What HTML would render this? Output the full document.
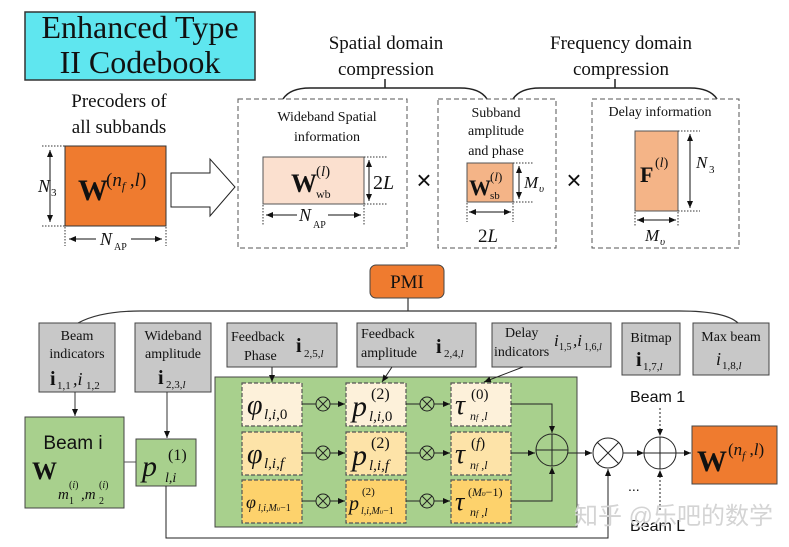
<!DOCTYPE html>
<html><head><meta charset="utf-8"><style>
html,body{margin:0;padding:0;background:#fff;}
svg{display:block;}
text{font-family:"Liberation Serif",serif;fill:#111;}
.s{font-family:"Liberation Sans","DejaVu Sans",sans-serif;}
.i{font-style:italic;}
.b{font-weight:bold;}
</style></head><body>
<svg width="789" height="547" viewBox="0 0 789 547" xmlns="http://www.w3.org/2000/svg">
<defs>
<marker id="ah" markerWidth="8" markerHeight="8" refX="7" refY="4" orient="auto" markerUnits="userSpaceOnUse"><path d="M0,1 L7,4 L0,7 z" fill="#111"/></marker>
<marker id="as" markerWidth="8" markerHeight="8" refX="1" refY="4" orient="auto" markerUnits="userSpaceOnUse"><path d="M8,1 L1,4 L8,7 z" fill="#111"/></marker>
</defs>

<!-- Title -->
<rect x="25" y="12" width="230" height="68" fill="#5fe6ef" stroke="#333" stroke-width="1.5"/>
<text x="140" y="38" font-size="32" text-anchor="middle">Enhanced Type</text>
<text x="140" y="73" font-size="32" text-anchor="middle">II Codebook</text>

<text x="386" y="49" font-size="19" text-anchor="middle">Spatial domain</text>
<text x="386" y="75" font-size="19" text-anchor="middle">compression</text>
<text x="621" y="49" font-size="19" text-anchor="middle">Frequency domain</text>
<text x="621" y="75" font-size="19" text-anchor="middle">compression</text>

<path d="M283,99 Q290,88 310,88 L460,88 Q480,88 487,99 M385,88 L385,79" fill="none" stroke="#222" stroke-width="1.5"/>
<path d="M513,99 Q520,88 540,88 L690,88 Q710,88 717,99 M615,88 L615,79" fill="none" stroke="#222" stroke-width="1.5"/>

<text x="119" y="107" font-size="19" text-anchor="middle">Precoders of</text>
<text x="119" y="133" font-size="19" text-anchor="middle">all subbands</text>

<!-- W box -->
<rect x="65" y="146" width="101" height="80" fill="#ef7b2f" stroke="#333" stroke-width="1"/>
<text x="78" y="200" font-size="30" class="b">W</text>
<text x="106" y="186" font-size="19"><tspan>(</tspan><tspan class="i">n</tspan><tspan class="i" font-size="12" dy="4">f</tspan><tspan dy="-4"> ,</tspan><tspan class="i">l</tspan><tspan>)</tspan></text>
<path d="M42,146 L65,146 M42,226 L65,226 M65,227 L65,246 M166,227 L166,246" stroke="#333" stroke-dasharray="1.5,1.5"/>
<line x1="50" y1="150" x2="50" y2="222" stroke="#111" marker-end="url(#ah)" marker-start="url(#as)"/>
<text x="38" y="192" font-size="18" class="i">N</text><text x="51" y="196" font-size="11">3</text>
<line x1="69" y1="239" x2="96" y2="239" stroke="#111" marker-start="url(#as)"/>
<line x1="131" y1="239" x2="162" y2="239" stroke="#111" marker-end="url(#ah)"/>
<text x="100" y="245" font-size="18" class="i">N</text><text x="114" y="250" font-size="10">AP</text>

<!-- hollow arrow -->
<path d="M171,173 L210,173 L210,159 L235,187 L210,216 L210,207 L171,207 z" fill="#fff" stroke="#222" stroke-width="1"/>

<!-- dashed boxes -->
<rect x="238" y="99" width="169" height="149" fill="none" stroke="#555" stroke-dasharray="5,3"/>
<rect x="438" y="99" width="118" height="149" fill="none" stroke="#555" stroke-dasharray="5,3"/>
<rect x="592" y="99" width="147" height="149" fill="none" stroke="#555" stroke-dasharray="5,3"/>

<text x="327" y="121" font-size="14" text-anchor="middle">Wideband Spatial</text>
<text x="327" y="141" font-size="14" text-anchor="middle">information</text>
<rect x="263" y="157" width="101" height="47" fill="#fbe0cf" stroke="#555" stroke-width="1"/>
<text x="291" y="192" font-size="26" class="b">W</text>
<text x="316" y="176" font-size="15">(<tspan class="i">l</tspan>)</text>
<text x="316" y="198" font-size="12">wb</text>
<path d="M364,157 L388,157 M364,204 L388,204 M263,205 L263,226 M364,205 L364,226" stroke="#333" stroke-dasharray="1.5,1.5"/>
<line x1="369" y1="160" x2="369" y2="201" stroke="#111" marker-end="url(#ah)" marker-start="url(#as)"/>
<text x="373" y="189" font-size="20">2<tspan class="i">L</tspan></text>
<line x1="266" y1="215" x2="297" y2="215" stroke="#111" marker-start="url(#as)"/>
<line x1="328" y1="215" x2="361" y2="215" stroke="#111" marker-end="url(#ah)"/>
<text x="299" y="221" font-size="18" class="i">N</text><text x="313" y="228" font-size="10">AP</text>

<text x="424" y="189" font-size="26" text-anchor="middle" class="s">×</text>
<text x="574" y="189" font-size="26" text-anchor="middle" class="s">×</text>

<text x="496" y="117" font-size="14" text-anchor="middle">Subband</text>
<text x="496" y="135" font-size="14" text-anchor="middle">amplitude</text>
<text x="496" y="155" font-size="14" text-anchor="middle">and phase</text>
<rect x="467" y="163" width="46" height="39" fill="#f4b487" stroke="#555"/>
<text x="469" y="195" font-size="22" class="b">W</text>
<text x="490" y="181" font-size="13">(<tspan class="i">l</tspan>)</text>
<text x="490" y="199" font-size="11">sb</text>
<path d="M513,163 L534,163 M513,202 L534,202 M467,203 L467,222 M513,203 L513,222" stroke="#333" stroke-dasharray="1.5,1.5"/>
<line x1="519" y1="166" x2="519" y2="199" stroke="#111" marker-end="url(#ah)" marker-start="url(#as)"/>
<text x="524" y="188" font-size="17" class="i">M</text><text x="539" y="192" font-size="11" class="i">υ</text>
<line x1="469" y1="212" x2="511" y2="212" stroke="#111" marker-end="url(#ah)" marker-start="url(#as)"/>
<text x="478" y="242" font-size="19">2<tspan class="i">L</tspan></text>

<text x="660" y="116" font-size="14" text-anchor="middle">Delay information</text>
<rect x="635" y="131" width="43" height="80" fill="#f4b487" stroke="#555"/>
<text x="640" y="182" font-size="22" class="b">F</text>
<text x="655" y="167" font-size="14">(<tspan class="i">l</tspan>)</text>
<path d="M678,131 L700,131 M678,211 L700,211 M635,212 L635,227 M678,212 L678,227" stroke="#333" stroke-dasharray="1.5,1.5"/>
<line x1="690" y1="134" x2="690" y2="208" stroke="#111" marker-end="url(#ah)" marker-start="url(#as)"/>
<text x="696" y="168" font-size="17" class="i">N</text><text x="709" y="173" font-size="11">3</text>
<line x1="637" y1="220" x2="676" y2="220" stroke="#111" marker-end="url(#ah)" marker-start="url(#as)"/>
<text x="645" y="241" font-size="17" class="i">M</text><text x="660" y="245" font-size="11" class="i">υ</text>

<!-- PMI -->
<rect x="370" y="265" width="74" height="33" rx="6" fill="#ef7b2f" stroke="#444"/>
<text x="407" y="288" font-size="19" text-anchor="middle">PMI</text>
<path d="M78,323 Q100,311 140,311 L680,311 Q725,311 738,323 M408,298 L408,311" fill="none" stroke="#333" stroke-width="1.2"/>

<!-- gray boxes -->
<g fill="#c8c8c8" stroke="#444" stroke-width="1">
<rect x="39" y="323" width="76" height="69"/>
<rect x="135" y="323" width="76" height="69"/>
<rect x="227" y="323" width="110" height="44"/>
<rect x="357" y="323" width="119" height="44"/>
<rect x="492" y="323" width="119" height="44"/>
<rect x="622" y="323" width="58" height="52"/>
<rect x="693" y="323" width="76" height="52"/>
</g>
<text x="77" y="340" font-size="14" text-anchor="middle">Beam</text>
<text x="77" y="358" font-size="14" text-anchor="middle">indicators</text>
<text x="50" y="385" font-size="20" class="b">i</text><text x="57" y="389" font-size="11">1,1</text><text x="73" y="385" font-size="18" class="i">,i</text><text x="86" y="389" font-size="11">1,2</text>
<text x="173" y="340" font-size="14" text-anchor="middle">Wideband</text>
<text x="173" y="358" font-size="14" text-anchor="middle">amplitude</text>
<text x="158" y="384" font-size="20" class="b">i</text><text x="166" y="388" font-size="11">2,3,<tspan class="i">l</tspan></text>
<text x="231" y="341" font-size="14">Feedback</text>
<text x="244" y="360" font-size="14">Phase</text>
<text x="296" y="352" font-size="20" class="b">i</text><text x="304" y="357" font-size="11">2,5,<tspan class="i">l</tspan></text>
<text x="361" y="338" font-size="14">Feedback</text>
<text x="361" y="357" font-size="14">amplitude</text>
<text x="436" y="353" font-size="20" class="b">i</text><text x="444" y="357" font-size="11">2,4,<tspan class="i">l</tspan></text>
<text x="505" y="337" font-size="14">Delay</text>
<text x="494" y="356" font-size="14">indicators</text>
<text x="554" y="346" font-size="17" class="i">i</text><text x="559" y="350" font-size="10">1,5</text><text x="573" y="346" font-size="17" class="i">,i</text><text x="584" y="350" font-size="10">1,6,<tspan class="i">l</tspan></text>
<text x="651" y="342" font-size="14" text-anchor="middle">Bitmap</text>
<text x="636" y="366" font-size="20" class="b">i</text><text x="643" y="370" font-size="11">1,7,<tspan class="i">l</tspan></text>
<text x="731" y="341" font-size="14" text-anchor="middle">Max beam</text>
<text x="716" y="365" font-size="18" class="i">i</text><text x="722" y="369" font-size="11">1,8,<tspan class="i">l</tspan></text>

<!-- beam i & p -->
<line x1="75" y1="392" x2="75" y2="416" stroke="#333" marker-end="url(#ah)"/>
<line x1="167" y1="392" x2="167" y2="438" stroke="#333" marker-end="url(#ah)"/>
<rect x="25" y="417" width="99" height="91" fill="#a8d08d" stroke="#444"/>
<text x="73" y="449" font-size="19" text-anchor="middle" class="s">Beam i</text>
<text x="32" y="479" font-size="25" class="b">W</text>
<text x="58" y="499" font-size="15" class="i">m</text><text x="69" y="504" font-size="10">1</text><text x="69" y="488" font-size="10">(<tspan class="i">i</tspan>)</text>
<text x="81" y="499" font-size="15" class="i">,m</text><text x="99" y="504" font-size="10">2</text><text x="99" y="488" font-size="10">(<tspan class="i">i</tspan>)</text>
<line x1="124" y1="462" x2="136" y2="462" stroke="#555"/>
<rect x="136" y="439" width="60" height="47" fill="#a8d08d" stroke="#444"/>
<text x="142" y="476" font-size="30" class="i">p</text>
<text x="165" y="482" font-size="14" class="i">l,i</text>
<text x="168" y="460" font-size="16">(1)</text>
<path d="M166,486 L166,538 L608,538 L608,469" fill="none" stroke="#222" marker-end="url(#ah)"/>

<!-- green big -->
<rect x="215" y="377" width="362" height="150" fill="#a8d08d" stroke="#444"/>
<line x1="272" y1="367" x2="272" y2="382" stroke="#222" marker-end="url(#ah)"/>
<line x1="392" y1="367" x2="382" y2="382" stroke="#222" marker-end="url(#ah)"/>
<line x1="523" y1="367" x2="484" y2="382" stroke="#222" marker-end="url(#ah)"/>
<g stroke="#555" stroke-dasharray="4,2" stroke-width="1.2">
<rect x="242" y="383" width="60" height="43" fill="#fdf1da"/>
<rect x="346" y="383" width="60" height="43" fill="#fdf1da"/>
<rect x="451" y="383" width="60" height="43" fill="#fdf1da"/>
<rect x="242" y="432" width="60" height="43" fill="#fde3a8"/>
<rect x="346" y="432" width="60" height="43" fill="#fde3a8"/>
<rect x="451" y="432" width="60" height="43" fill="#fde3a8"/>
<rect x="242" y="480" width="60" height="43" fill="#fdd26c"/>
<rect x="346" y="480" width="60" height="43" fill="#fdd26c"/>
<rect x="451" y="480" width="60" height="43" fill="#fdd26c"/>
</g>
<!-- row connectors -->
<g stroke="#222" fill="none">
<line x1="302" y1="404" x2="316" y2="404"/><line x1="330" y1="404" x2="345" y2="404" marker-end="url(#ah)"/>
<line x1="406" y1="404" x2="420" y2="404"/><line x1="434" y1="404" x2="450" y2="404" marker-end="url(#ah)"/>
<line x1="302" y1="453" x2="316" y2="453"/><line x1="330" y1="453" x2="345" y2="453" marker-end="url(#ah)"/>
<line x1="406" y1="453" x2="420" y2="453"/><line x1="434" y1="453" x2="450" y2="453" marker-end="url(#ah)"/>
<line x1="302" y1="501" x2="316" y2="501"/><line x1="330" y1="501" x2="345" y2="501" marker-end="url(#ah)"/>
<line x1="406" y1="501" x2="420" y2="501"/><line x1="434" y1="501" x2="450" y2="501" marker-end="url(#ah)"/>
<circle cx="323" cy="404" r="7"/><circle cx="427" cy="404" r="7"/>
<circle cx="323" cy="453" r="7"/><circle cx="427" cy="453" r="7"/>
<circle cx="323" cy="501" r="7"/><circle cx="427" cy="501" r="7"/>
<path d="M318,399 L328,409 M328,399 L318,409 M422,399 L432,409 M432,399 L422,409 M318,448 L328,458 M328,448 L318,458 M422,448 L432,458 M432,448 L422,458 M318,496 L328,506 M328,496 L318,506 M422,496 L432,506 M432,496 L422,506"/>
<path d="M511,404 L552,404 L552,433" marker-end="url(#ah)"/>
<path d="M511,501 L552,501 L552,467" marker-end="url(#ah)"/>
<line x1="511" y1="453" x2="535" y2="453" marker-end="url(#ah)"/>
<circle cx="552" cy="450" r="16"/>
<path d="M536,450 L568,450 M552,434 L552,466"/>
<line x1="568" y1="453" x2="592" y2="453" marker-end="url(#ah)"/>
<circle cx="608" cy="453" r="15"/>
<path d="M597,442 L619,464 M619,442 L597,464"/>
<line x1="623" y1="453" x2="644" y2="453" marker-end="url(#ah)"/>
<circle cx="660" cy="453" r="16"/>
<path d="M644,453 L676,453 M660,437 L660,469"/>
<line x1="676" y1="453" x2="691" y2="453" marker-end="url(#ah)"/>
<line x1="660" y1="408" x2="660" y2="436" stroke-dasharray="2,2" marker-end="url(#ah)"/>
<line x1="660" y1="510" x2="660" y2="470" stroke-dasharray="2,2" marker-end="url(#ah)"/>
</g>
<!-- cell labels -->
<text x="247" y="414" font-size="28" class="i">φ</text><text x="264" y="419" font-size="15" class="i">l,i,<tspan font-style="normal">0</tspan></text>
<text x="247" y="463" font-size="28" class="i">φ</text><text x="264" y="468" font-size="15" class="i">l,i,f</text>
<text x="246" y="508" font-size="18" class="i">φ</text><text x="258" y="511" font-size="10" class="i">l,i,M<tspan font-size="7">υ</tspan><tspan font-style="normal">−1</tspan></text>
<text x="352" y="416" font-size="30" class="i">p</text><text x="369" y="421" font-size="15" class="i">l,i,<tspan font-style="normal">0</tspan></text><text x="371" y="399" font-size="16">(2)</text>
<text x="352" y="465" font-size="30" class="i">p</text><text x="369" y="470" font-size="15" class="i">l,i,f</text><text x="371" y="448" font-size="16">(2)</text>
<text x="349" y="510" font-size="20" class="i">p</text><text x="361" y="514" font-size="10" class="i">l,i,M<tspan font-size="7">υ</tspan><tspan font-style="normal">−1</tspan></text><text x="362" y="495" font-size="11">(2)</text>
<text x="455" y="414" font-size="28" class="i">τ</text><text x="470" y="420" font-size="12" class="i">n<tspan font-size="8">f</tspan> ,l</text><text x="471" y="399" font-size="15">(0)</text>
<text x="455" y="463" font-size="28" class="i">τ</text><text x="470" y="469" font-size="12" class="i">n<tspan font-size="8">f</tspan> ,l</text><text x="471" y="448" font-size="15">(<tspan class="i">f</tspan>)</text>
<text x="455" y="510" font-size="26" class="i">τ</text><text x="470" y="516" font-size="12" class="i">n<tspan font-size="8">f</tspan> ,l</text><text x="468" y="496" font-size="12">(<tspan class="i">M<tspan font-size="8">υ</tspan></tspan>−1)</text>

<!-- right side -->
<text x="630" y="402" font-size="16" class="s">Beam 1</text>
<text x="628" y="491" font-size="14" class="s">...</text>
<text x="630" y="531" font-size="16" class="s">Beam L</text>
<rect x="692" y="426" width="85" height="58" fill="#ef7b2f" stroke="#444"/>
<text x="697" y="471" font-size="30" class="b">W</text>
<text x="728" y="455" font-size="17">(<tspan class="i">n</tspan><tspan class="i" font-size="11" dy="4">f</tspan><tspan dy="-4"> ,</tspan><tspan class="i">l</tspan>)</text>
<text x="574" y="524" font-size="24" style="fill:#d4d4d4;font-family:'Liberation Sans','Noto Sans CJK SC',sans-serif;">知乎 @乐吧的数学</text>
</svg>
</body></html>
